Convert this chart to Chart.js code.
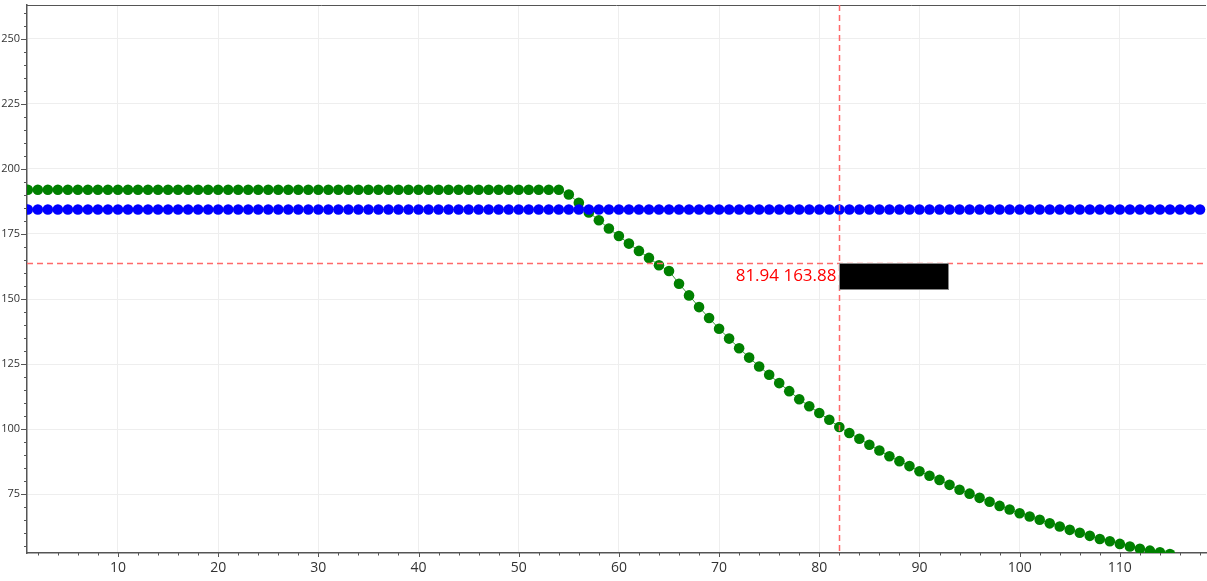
<!DOCTYPE html>
<html>
<head>
<meta charset="utf-8">
<script src="https://cdn.jsdelivr.net/npm/chart.js@4"></script>
<style>
html,body{margin:0;padding:0;background:#fff;}
canvas{display:block;}
</style>
</head>
<body>
<canvas id="c" width="1207" height="581"></canvas>
<script>
// ---- data ----
const xValues = [1,2,3,4,5,6,7,8,9,10,11,12,13,14,15,16,17,18,19,20,21,22,23,24,25,26,27,28,29,30,31,32,33,34,35,36,37,38,39,40,41,42,43,44,45,46,47,48,49,50,51,52,53,54,55,56,57,58,59,60,61,62,63,64,65,66,67,68,69,70,71,72,73,74,75,76,77,78,79,80,81,82,83,84,85,86,87,88,89,90,91,92,93,94,95,96,97,98,99,100,101,102,103,104,105,106,107,108,109,110,111,112,113,114,115,116,117,118];
const greenValues = [192,192,192,192,192,192,192,192,192,192,192,192,192,192,192,192,192,192,192,192,192,192,192,192,192,192,192,192,192,192,192,192,192,192,192,192,192,192,192,192,192,192,192,192,192,192,192,192,192,192,192,192,192,192,
190.2,187,183.3,180.3,177.1,174.2,171.3,168.5,165.8,163.0,160.8,155.9,151.4,146.9,142.7,138.6,134.8,131.1,127.5,124.1,120.9,117.7,114.6,111.5,108.8,106.2,103.6,100.8,98.5,96.3,94.0,91.8,89.6,87.7,85.8,83.8,82.1,80.5,78.6,76.7,75.2,73.6,72.1,70.5,69.1,67.7,66.4,65.2,63.8,62.6,61.3,60.2,59.0,57.8,56.9,55.9,54.9,54.0,53.3,52.7,52.0];
const blueValues = [184.4,184.4,184.4,184.4,184.4,184.4,184.4,184.4,184.4,184.4,184.4,184.4,184.4,184.4,184.4,184.4,184.4,184.4,184.4,184.4,184.4,184.4,184.4,184.4,184.4,184.4,184.4,184.4,184.4,184.4,184.4,184.4,184.4,184.4,184.4,184.4,184.4,184.4,184.4,184.4,184.4,184.4,184.4,184.4,184.4,184.4,184.4,184.4,184.4,184.4,184.4,184.4,184.4,184.4,184.4,184.4,184.4,184.4,184.4,184.4,184.4,184.4,184.4,184.4,184.4,184.4,184.4,184.4,184.4,184.4,184.4,184.4,184.4,184.4,184.4,184.4,184.4,184.4,184.4,184.4,184.4,184.4,184.4,184.4,184.4,184.4,184.4,184.4,184.4,184.4,184.4,184.4,184.4,184.4,184.4,184.4,184.4,184.4,184.4,184.4,184.4,184.4,184.4,184.4,184.4,184.4,184.4,184.4,184.4,184.4,184.4,184.4,184.4,184.4,184.4,184.4,184.4,184.4];
const crosshair = [81.94, 163.88];
const crosshairLabel = ["81.94 163.88"];
const xRange = [0.92, 118.6];
const yRange = [52.4, 263];
const xTickStep = 10, xMinorStep = 2;
const yTickStep = 25, yMinorStep = 5;

const FONT = "'Open Sans', 'Noto Sans', sans-serif";

const pts = (vals) => vals.map((v, i) => ({x: xValues[i], y: v}));

const decor = {
  id: 'decor',
  afterDraw(chart) {
    const {ctx, chartArea: a, scales: {x, y}} = chart;
    ctx.save();
    ctx.strokeStyle = '#555';
    ctx.lineWidth = 1;
    for (let v = Math.ceil(y.min / yMinorStep) * yMinorStep; v <= y.max; v += yMinorStep) {
      const py = Math.round(y.getPixelForValue(v)) + 0.5;
      const len = (v % yTickStep === 0) ? 6 : 3;
      ctx.beginPath(); ctx.moveTo(a.left - len, py); ctx.lineTo(a.left, py); ctx.stroke();
    }
    for (let v = Math.ceil(x.min / xMinorStep) * xMinorStep; v <= x.max; v += xMinorStep) {
      const px = Math.round(x.getPixelForValue(v)) + 0.5;
      const len = (v % xTickStep === 0) ? 4 : 2.5;
      ctx.beginPath(); ctx.moveTo(px, a.bottom); ctx.lineTo(px, a.bottom + len); ctx.stroke();
    }
    ctx.beginPath(); ctx.moveTo(a.left, a.top + 0.5); ctx.lineTo(a.right, a.top + 0.5); ctx.stroke();

    const cx = Math.round(x.getPixelForValue(crosshair[0])) + 0.5;
    const cy = Math.round(y.getPixelForValue(crosshair[1])) + 0.5;
    ctx.strokeStyle = '#ff6a6a';
    ctx.lineWidth = 1.5;
    ctx.setLineDash([6, 4]);
    ctx.beginPath(); ctx.moveTo(a.left, cy); ctx.lineTo(a.right, cy); ctx.stroke();
    ctx.beginPath(); ctx.moveTo(cx, a.top); ctx.lineTo(cx, a.bottom); ctx.stroke();
    ctx.setLineDash([]);
    ctx.fillStyle = '#000';
    ctx.fillRect(cx, cy, 109, 26);
    ctx.strokeStyle = '#888';
    ctx.lineWidth = 1;
    ctx.strokeRect(cx, cy, 109, 26);
    ctx.fillStyle = '#ff0000';
    ctx.font = "17px " + FONT;
    ctx.textAlign = 'right';
    ctx.textBaseline = 'middle';
    ctx.fillText(crosshairLabel[0], cx - 3, cy + 13);
    ctx.restore();
  }
};

function zeroPad(s) { s.paddingTop = 0; s.paddingBottom = 0; s.paddingLeft = 0; s.paddingRight = 0; }

new Chart(document.getElementById('c'), {
  type: 'line',
  data: {
    datasets: [
      {
        data: pts(blueValues),
        borderColor: '#0000ff', backgroundColor: '#0000ff',
        borderWidth: 1, pointRadius: 5.3, pointBorderWidth: 0,
        pointBackgroundColor: '#0000ff', tension: 0
      },
      {
        data: pts(greenValues),
        borderColor: '#3a9a3a', backgroundColor: '#008000',
        borderWidth: 1, pointRadius: 5.3, pointBorderWidth: 0,
        pointBackgroundColor: '#008000', tension: 0
      }
    ]
  },
  options: {
    responsive: false,
    animation: false,
    devicePixelRatio: 1,
    layout: {autoPadding: false, padding: {top: 5, right: 1, left: 0, bottom: 0}},
    plugins: {legend: {display: false}, tooltip: {enabled: false}},
    scales: {
      x: {
        type: 'linear', min: xRange[0], max: xRange[1],
        afterFit(s) { s.height = 28; zeroPad(s); },
        grid: {color: '#eeeeee', drawTicks: false},
        border: {display: true, color: '#555', width: 1.5},
        ticks: {stepSize: xTickStep, includeBounds: false, autoSkip: false, maxRotation: 0,
                padding: 7, color: '#333', font: {family: FONT, size: 14}}
      },
      y: {
        type: 'linear', min: yRange[0], max: yRange[1],
        afterFit(s) { s.width = 27; zeroPad(s); },
        grid: {color: '#eeeeee', drawTicks: false},
        border: {display: true, color: '#555', width: 1.5},
        ticks: {stepSize: yTickStep, includeBounds: false, autoSkip: false,
                padding: 7, color: '#333', font: {family: FONT, size: 11}}
      }
    }
  },
  plugins: [decor]
});
</script>
</body>
</html>
